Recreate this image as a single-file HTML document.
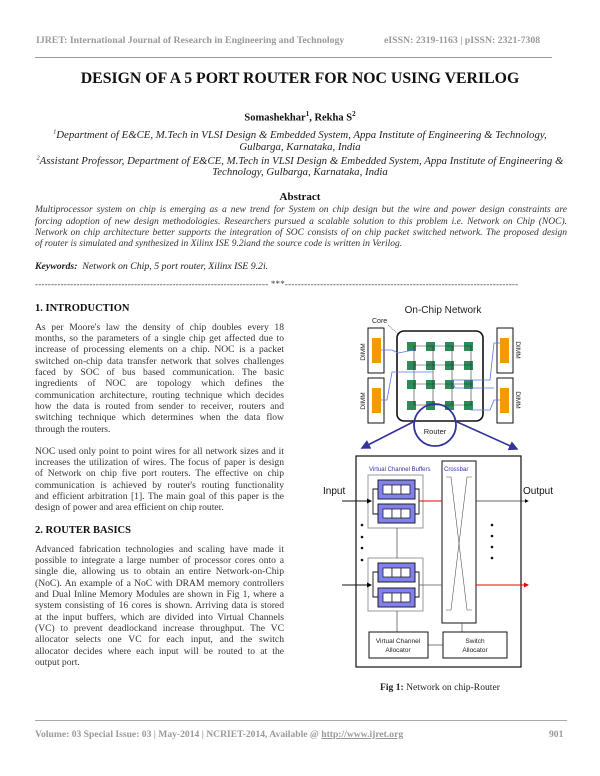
<!DOCTYPE html>
<html><head><meta charset="utf-8"><style>
body{margin:0;width:600px;height:776px;background:#fff;position:relative;overflow:hidden;font-family:"Liberation Serif",serif;color:#222}
.a{position:absolute;white-space:nowrap}
.l{position:absolute;left:35px;width:249px;font-size:9.6px;text-align:justify;text-align-last:justify;white-space:nowrap;line-height:11px;color:#333}
.ll{text-align-last:left}
.c{text-align:center;left:0;width:600px}
</style></head><body>
<div class="a" style="left:36px;top:35px;font-size:9.8px;font-weight:bold;color:#999">IJRET: International Journal of Research in Engineering and Technology</div>
<div class="a" style="left:384px;top:35px;font-size:9.8px;font-weight:bold;color:#999">eISSN: 2319-1163 | pISSN: 2321-7308</div>
<div class="a" style="left:35px;top:57px;width:517px;height:1px;background:#999"></div>
<div class="a c" style="top:70px;font-size:15.8px;font-weight:bold;color:#111">DESIGN OF A 5 PORT ROUTER FOR NOC USING VERILOG</div>
<div class="a c" style="top:110px;font-size:10.5px;font-weight:bold;color:#111">Somashekhar<sup style="font-size:7px">1</sup>, Rekha S<sup style="font-size:7px">2</sup></div>
<div class="a c" style="top:129px;font-size:10.8px;font-style:italic"><sup style="font-size:6px">1</sup>Department of E&amp;CE, M.Tech in VLSI Design &amp; Embedded System, Appa Institute of Engineering &amp; Technology,</div>
<div class="a c" style="top:141px;font-size:10.8px;font-style:italic">Gulbarga, Karnataka, India</div>
<div class="a c" style="top:155px;font-size:10.8px;font-style:italic"><sup style="font-size:6px">2</sup>Assistant Professor, Department of E&amp;CE, M.Tech in VLSI Design &amp; Embedded System, Appa Institute of Engineering &amp;</div>
<div class="a c" style="top:166px;font-size:10.8px;font-style:italic">Technology, Gulbarga, Karnataka, India</div>
<div class="a c" style="top:191px;font-size:11px;font-weight:bold;color:#111">Abstract</div>
<div class="l" style="top:205px;width:532px;font-style:italic;font-size:9.5px">Multiprocessor system on chip is emerging as a new trend for System on chip design but the wire and power design constraints are</div>
<div class="l" style="top:217px;width:532px;font-style:italic;font-size:9.5px">forcing adoption of new design methodologies. Researchers pursued a scalable solution to this problem i.e. Network on Chip (NOC).</div>
<div class="l" style="top:228px;width:532px;font-style:italic;font-size:9.5px">Network on chip architecture better supports the integration of SOC consists of on chip packet switched network. The proposed design</div>
<div class="l ll" style="top:239px;width:532px;font-style:italic;font-size:9.5px">of router is simulated and synthesized in Xilinx ISE 9.2iand the source code is written in Verilog.</div>
<div class="a" style="left:35px;top:261px;font-size:9.8px;font-style:italic"><b>Keywords:</b>&nbsp; Network on Chip, 5 port router, Xilinx ISE 9.2i.</div>
<div class="a" style="left:35px;top:279px;font-size:9px;letter-spacing:0.2px;color:#444;width:515px;overflow:hidden">------------------------------------------------------------------------- ***-------------------------------------------------------------------------</div>

<div class="a" style="left:35px;top:303px;font-size:10.5px;font-weight:bold;color:#111">1. INTRODUCTION</div>
<div class="l" style="top:322px">As per Moore's law the density of chip doubles every 18</div>
<div class="l" style="top:333px">months, so the parameters of a single chip get affected due to</div>
<div class="l" style="top:344px">increase of processing elements on a chip. NOC is a packet</div>
<div class="l" style="top:356px">switched on-chip data transfer network that solves challenges</div>
<div class="l" style="top:367px">faced by SOC of bus based communication. The basic</div>
<div class="l" style="top:378px">ingredients of NOC are topology which defines the</div>
<div class="l" style="top:390px">communication architecture, routing technique which decides</div>
<div class="l" style="top:401px">how the data is routed from sender to receiver, routers and</div>
<div class="l" style="top:412px">switching technique which determines when the data flow</div>
<div class="l ll" style="top:424px">through the routers.</div>
<div class="l" style="top:446px">NOC used only point to point wires for all network sizes and it</div>
<div class="l" style="top:457px">increases the utilization of wires. The focus of paper is design</div>
<div class="l" style="top:468px">of Network on chip five port routers. The effective on chip</div>
<div class="l" style="top:480px">communication is achieved by router's routing functionality</div>
<div class="l" style="top:491px">and efficient arbitration [1]. The main goal of this paper is the</div>
<div class="l ll" style="top:502px">design of power and area efficient on chip router.</div>

<div class="a" style="left:35px;top:525px;font-size:10.5px;font-weight:bold;color:#111">2. ROUTER BASICS</div>
<div class="l" style="top:544px">Advanced fabrication technologies and scaling have made it</div>
<div class="l" style="top:555px">possible to integrate a large number of processor cores onto a</div>
<div class="l" style="top:566px">single die, allowing us to obtain an entire Network-on-Chip</div>
<div class="l" style="top:578px">(NoC). An example of a NoC with DRAM memory controllers</div>
<div class="l" style="top:589px">and Dual Inline Memory Modules are shown in Fig 1, where a</div>
<div class="l" style="top:600px">system consisting of 16 cores is shown. Arriving data is stored</div>
<div class="l" style="top:612px">at the input buffers, which are divided into Virtual Channels</div>
<div class="l" style="top:623px">(VC) to prevent deadlockand increase throughput. The VC</div>
<div class="l" style="top:634px">allocator selects one VC for each input, and the switch</div>
<div class="l" style="top:646px">allocator decides where each input will be routed to at the</div>
<div class="l ll" style="top:657px">output port.</div>

<div class="a" style="left:380px;top:682px;font-size:9.6px"><b>Fig 1:</b> Network on chip-Router</div>
<div class="a" style="left:35px;top:720px;width:532px;height:1px;background:#aaa"></div>
<div class="a" style="left:35px;top:729px;font-size:9.6px;font-weight:bold;color:#999">Volume: 03 Special Issue: 03 | May-2014 | NCRIET-2014, Available @ <u>http://www.ijret.org</u></div>
<div class="a" style="left:549px;top:729px;font-size:9.6px;font-weight:bold;color:#999">901</div>

<svg width="600" height="776" style="position:absolute;left:0;top:0" font-family="Liberation Sans, sans-serif">
<defs><marker id="ab" markerWidth="6" markerHeight="6" refX="5" refY="3" orient="auto"><path d="M0,0L6,3L0,6z" fill="#333399"/></marker>
<marker id="ak" markerWidth="5" markerHeight="5" refX="4" refY="2.5" orient="auto"><path d="M0,0L5,2.5L0,5z" fill="#000"/></marker>
<marker id="ar" markerWidth="5" markerHeight="5" refX="4" refY="2.5" orient="auto"><path d="M0,0L5,2.5L0,5z" fill="#e00"/></marker></defs>
<text x="443" y="313" font-size="10" text-anchor="middle" fill="#222">On-Chip Network</text>
<text x="372" y="323" font-size="7" fill="#222">Core</text>
<line x1="388" y1="325" x2="405" y2="340" stroke="#333" stroke-width="0.6" stroke-dasharray="1,1"/>
<rect x="397" y="331" width="86" height="90" rx="7" fill="#fff" stroke="#111" stroke-width="1.6"/>
<g stroke="#111" stroke-width="1" fill="#fff">
<rect x="368" y="328" width="16" height="45"/><rect x="368" y="378" width="16" height="45"/>
<rect x="497" y="328" width="16" height="45"/><rect x="497" y="378" width="16" height="45"/></g>
<g fill="#f39a00"><rect x="372" y="338" width="9" height="25"/><rect x="372" y="388" width="9" height="25"/><rect x="500" y="338" width="9" height="25"/><rect x="500" y="388" width="9" height="25"/></g>
<g font-size="6.5" fill="#222"><text transform="translate(365,352) rotate(-90)" text-anchor="middle">DIMM</text><text transform="translate(365,401) rotate(-90)" text-anchor="middle">DIMM</text>
<text transform="translate(516,350) rotate(90)" text-anchor="middle">DIMM</text><text transform="translate(516,400) rotate(90)" text-anchor="middle">DIMM</text></g>
<g fill="#2e8b57"><rect x="407" y="342" width="9" height="9"/><rect x="426" y="342" width="9" height="9"/><rect x="445" y="342" width="9" height="9"/><rect x="464" y="342" width="9" height="9"/>
<rect x="407" y="361" width="9" height="9"/><rect x="426" y="361" width="9" height="9"/><rect x="445" y="361" width="9" height="9"/><rect x="464" y="361" width="9" height="9"/>
<rect x="407" y="380" width="9" height="9"/><rect x="426" y="380" width="9" height="9"/><rect x="445" y="380" width="9" height="9"/><rect x="464" y="380" width="9" height="9"/>
<rect x="407" y="401" width="9" height="9"/><rect x="426" y="401" width="9" height="9"/><rect x="445" y="401" width="9" height="9"/><rect x="464" y="401" width="9" height="9"/></g>
<g stroke="#333" stroke-width="0.6"><line x1="414" y1="346" x2="472" y2="346"/><line x1="414" y1="365" x2="472" y2="365"/><line x1="414" y1="384" x2="472" y2="384"/><line x1="414" y1="405" x2="472" y2="405"/>
<line x1="414" y1="346" x2="414" y2="405"/><line x1="433" y1="346" x2="433" y2="405"/><line x1="452" y1="346" x2="452" y2="405"/><line x1="471" y1="346" x2="471" y2="405"/></g>
<g stroke="#5577ee" stroke-width="0.8" fill="none"><polyline points="381,350 392,350 398,353 414,350"/><polyline points="381,400 387,400 392,372 433,372"/>
<polyline points="500,343 494,343 490,380 452,380 455,388 494,388"/><polyline points="500,400 494,400 490,410 470,410"/></g>
<circle cx="435" cy="425" r="21" fill="none" stroke="#333399" stroke-width="1.8"/>
<text x="435" y="434" font-size="7.5" text-anchor="middle" fill="#222">Router</text>
<line x1="415" y1="421" x2="362" y2="448" stroke="#333399" stroke-width="1.6" marker-end="url(#ab)"/>
<line x1="455" y1="421" x2="517" y2="449" stroke="#333399" stroke-width="1.6" marker-end="url(#ab)"/>
<rect x="356" y="456" width="165" height="211" fill="#fff" stroke="#111" stroke-width="1.2"/>
<rect x="368" y="475" width="55" height="53" fill="#fff" stroke="#999" stroke-width="1"/>
<rect x="368" y="558" width="55" height="53" fill="#fff" stroke="#999" stroke-width="1"/>
<g fill="#8080f0" stroke="#222" stroke-width="1"><rect x="378" y="480" width="37" height="19"/><rect x="378" y="504" width="37" height="19"/><rect x="378" y="563" width="37" height="19"/><rect x="378" y="588" width="37" height="19"/></g>
<g fill="#fff" stroke="#222" stroke-width="0.8">
<rect x="383" y="485" width="9" height="9"/><rect x="392" y="485" width="9" height="9"/><rect x="401" y="485" width="9" height="9"/>
<rect x="383" y="509" width="9" height="9"/><rect x="392" y="509" width="9" height="9"/><rect x="401" y="509" width="9" height="9"/>
<rect x="383" y="568" width="9" height="9"/><rect x="392" y="568" width="9" height="9"/><rect x="401" y="568" width="9" height="9"/>
<rect x="383" y="593" width="9" height="9"/><rect x="392" y="593" width="9" height="9"/><rect x="401" y="593" width="9" height="9"/></g>
<g stroke="#111" stroke-width="0.9" fill="none"><polyline points="378,489 373,489 373,514 378,514"/><polyline points="415,489 419,489 419,514 415,514"/>
<polyline points="378,572 373,572 373,597 378,597"/><polyline points="415,572 419,572 419,597 415,597"/></g>
<rect x="442" y="461" width="34" height="162" fill="#fff" stroke="#111" stroke-width="1"/>
<text x="369" y="471" font-size="6" fill="#3333aa">Virtual Channel Buffers</text>
<text x="444" y="471" font-size="6" fill="#3333aa">Crossbar</text>
<g stroke="#555" stroke-width="0.6" fill="none"><polyline points="446,477 451,477 467,610 472,610"/><polyline points="472,477 467,477 451,610 446,610"/></g>
<text x="323" y="494" font-size="10" fill="#111">Input</text>
<text x="523" y="494" font-size="10" fill="#111">Output</text>
<line x1="342" y1="501" x2="371" y2="501" stroke="#111" stroke-width="1" marker-end="url(#ak)"/>
<line x1="342" y1="585" x2="371" y2="585" stroke="#111" stroke-width="1" marker-end="url(#ak)"/>
<line x1="419" y1="501" x2="442" y2="501" stroke="#e00" stroke-width="1"/>
<line x1="419" y1="585" x2="442" y2="585" stroke="#555" stroke-width="0.7"/>
<line x1="476" y1="501" x2="528" y2="501" stroke="#333" stroke-width="0.8" marker-end="url(#ak)"/>
<line x1="476" y1="585" x2="528" y2="585" stroke="#e00" stroke-width="1" marker-end="url(#ar)"/>
<g fill="#111"><circle cx="362" cy="525" r="1.3"/><circle cx="362" cy="537" r="1.3"/><circle cx="362" cy="548" r="1.3"/><circle cx="362" cy="560" r="1.3"/>
<circle cx="492" cy="525" r="1.3"/><circle cx="492" cy="536" r="1.3"/><circle cx="492" cy="547" r="1.3"/><circle cx="492" cy="558" r="1.3"/></g>
<g stroke="#444" stroke-width="0.7"><line x1="397" y1="528" x2="397" y2="558"/><line x1="397" y1="611" x2="397" y2="632"/><line x1="462" y1="623" x2="462" y2="632"/><line x1="428" y1="645" x2="443" y2="645"/></g>
<rect x="369" y="632" width="59" height="26" fill="#fff" stroke="#111" stroke-width="1"/>
<rect x="443" y="632" width="64" height="26" fill="#fff" stroke="#111" stroke-width="1"/>
<g font-size="6.5" text-anchor="middle" fill="#222"><text x="398" y="643">Virtual Channel</text><text x="398" y="652">Allocator</text><text x="475" y="643">Switch</text><text x="475" y="652">Allocator</text></g>
</svg>
</body></html>
